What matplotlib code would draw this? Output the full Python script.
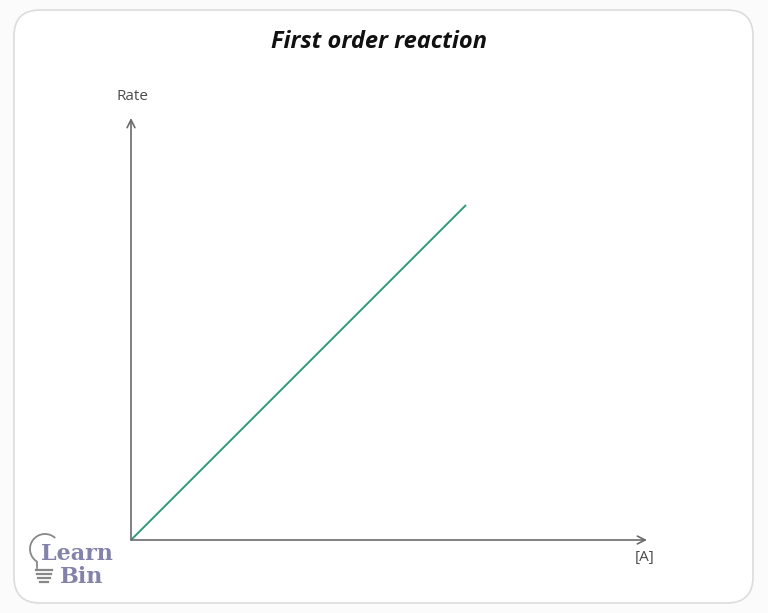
import numpy as np
import matplotlib.pyplot as plt
from matplotlib.patches import FancyBboxPatch, Arc

# data: rate is proportional to [A]
conc = [0.0, 1.0]
rate = [0.0, 1.0]

title = "First order reaction"
x_label = "[A]"
y_label = "Rate"

W, H = 768, 613
fig = plt.figure(figsize=(W / 100, H / 100), dpi=100)
fig.patch.set_facecolor('#fbfbfb')

# pixel-space background axes for the card and the logo
bg = fig.add_axes([0, 0, 1, 1], facecolor='none', zorder=0)
bg.set_xlim(0, W)
bg.set_ylim(H, 0)
bg.axis('off')
bg.add_patch(FancyBboxPatch((14, 10), 753 - 14, 603 - 10,
                            boxstyle="round,pad=0,rounding_size=26",
                            facecolor='white', edgecolor='#dcdcdc', linewidth=1.2))

# axes: origin at (131, 540) px, x arrow ends at 647, y arrow ends at 118
x0, y0, x1, y1 = 131, 540, 647, 118
unit = 466 - 131
ax = fig.add_axes([x0 / W, (H - y0) / H, (x1 - x0) / W, (y0 - y1) / H],
                  facecolor='none', zorder=2)
ax.set_xlim(0, (x1 - x0) / unit)
ax.set_ylim(0, (y0 - y1) / unit)
ax.axis('off')

axis_col = '#6b6b6b'
ax.annotate('', xy=(1, 0), xytext=(0, 0), xycoords='axes fraction',
            arrowprops=dict(arrowstyle='->', color=axis_col, lw=1.2,
                            mutation_scale=14, shrinkA=0, shrinkB=0))
ax.annotate('', xy=(0, 1), xytext=(0, 0), xycoords='axes fraction',
            arrowprops=dict(arrowstyle='->', color=axis_col, lw=1.2,
                            mutation_scale=14, shrinkA=0, shrinkB=0))

ax.plot(conc, rate, color='#2f9a7a', lw=1.4, solid_capstyle='butt', clip_on=False)

font = ['Open Sans', 'DejaVu Sans']
fig.text(379 / W, 1 - 42 / H, title, ha='center', va='center', fontsize=17,
         fontweight='bold', fontstyle='italic', family=font, color='#111111')
fig.text(133 / W, 1 - 97 / H, y_label, ha='center', va='center', fontsize=11,
         family=font, color='#4d4d4d')
fig.text(645 / W, 1 - 558 / H, x_label, ha='center', va='center', fontsize=11,
         family=font, color='#4d4d4d')

# logo
logo_col = '#8282aa'
bg.text(77, 554, "Learn", ha='center', va='center', fontsize=16,
        fontweight='bold', family=['DejaVu Serif'], color=logo_col)
bg.text(82, 577, "Bin", ha='center', va='center', fontsize=16,
        fontweight='bold', family=['DejaVu Serif'], color=logo_col)
bg.add_patch(Arc((45, 549), 30, 30, theta1=123, theta2=313, color='#888888', lw=1.3))
bg.plot([37, 37], [562, 568], color='#888888', lw=1.3)
for yy, xa, xb in [(570, 36, 52), (574, 37, 51), (578, 38, 50), (582, 40, 48)]:
    bg.plot([xa, xb], [yy, yy], color='#888888', lw=1.6)

fig.savefig('out.png', dpi=100, facecolor=fig.get_facecolor())
